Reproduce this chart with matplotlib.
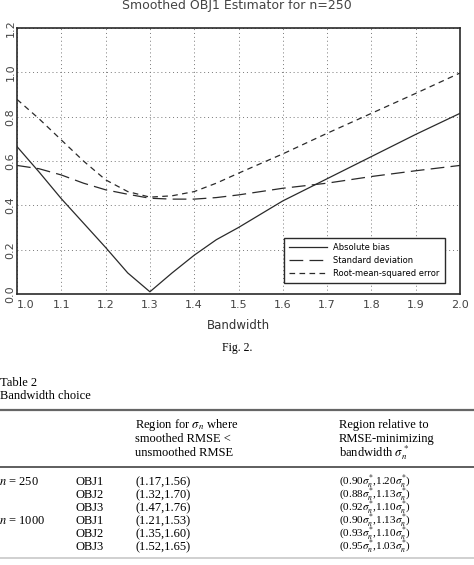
import matplotlib
matplotlib.use("Agg")
import matplotlib.pyplot as plt
from matplotlib.lines import Line2D

# values
bandwidth = [1.0, 1.05, 1.1, 1.15, 1.2, 1.25, 1.3, 1.35, 1.4, 1.45, 1.5, 1.6, 1.7, 1.8, 1.9, 2.0]
abs_bias = [0.665, 0.55, 0.43, 0.32, 0.21, 0.095, 0.01, 0.095, 0.175, 0.245, 0.30, 0.42, 0.52, 0.62, 0.72, 0.815]
std_dev = [0.58, 0.565, 0.537, 0.50, 0.47, 0.45, 0.432, 0.428, 0.428, 0.435, 0.447, 0.477, 0.50, 0.53, 0.556, 0.58]
rmse = [0.878, 0.79, 0.695, 0.60, 0.515, 0.462, 0.437, 0.443, 0.462, 0.50, 0.545, 0.632, 0.725, 0.815, 0.905, 0.997]

x_ticks = [1.0, 1.1, 1.2, 1.3, 1.4, 1.5, 1.6, 1.7, 1.8, 1.9, 2.0]
y_ticks = [0.0, 0.2, 0.4, 0.6, 0.8, 1.0, 1.2]
legend_labels = ["Absolute bias", "Standard deviation", "Root-mean-squared error"]

# table 2
sample_sizes = [r"$n$ = 250", "", "", r"$n$ = 1000", "", ""]
objectives = ["OBJ1", "OBJ2", "OBJ3", "OBJ1", "OBJ2", "OBJ3"]
regions = ["(1.17,1.56)", "(1.32,1.70)", "(1.47,1.76)", "(1.21,1.53)", "(1.35,1.60)", "(1.52,1.65)"]
rel_low = ["0.90", "0.88", "0.92", "0.90", "0.93", "0.95"]
rel_high = ["1.20", "1.13", "1.10", "1.13", "1.10", "1.03"]

ink = "#2a2a2a"
W, H = 474, 565
fig = plt.figure(figsize=(W / 100, H / 100), dpi=100)
plt.rcParams["mathtext.fontset"] = "stix"

ax = fig.add_axes([17 / W, 1 - 294 / H, 443 / W, 266 / H])
ax.plot(bandwidth, abs_bias, color=ink, lw=0.9, ls="-")
ax.plot(bandwidth, std_dev, color=ink, lw=0.9, dashes=(11, 5))
ax.plot(bandwidth, rmse, color=ink, lw=0.9, dashes=(4.5, 3.5))
ax.set_xlim(1.0, 2.0)
ax.set_ylim(0.0, 1.2)
ax.set_xticks(x_ticks)
ax.set_yticks(y_ticks)
ax.set_xticklabels(["%.1f" % v for v in x_ticks], fontsize=8, color="#444")
ax.set_yticklabels(["%.1f" % v for v in y_ticks], fontsize=8, color="#444",
                   rotation=90, va="center")
ax.get_xticklabels()[0].set_ha("left")
ax.tick_params(length=0, pad=4)
ax.tick_params(axis="y", pad=1)
ax.grid(True, ls=(0, (1, 3)), color="#777", lw=0.7)
for s in ax.spines.values():
    s.set_color(ink)
    s.set_linewidth(1.2)
ax.set_xlabel("Bandwidth", fontsize=8.5, color="#333", labelpad=7)
fig.text(237 / W, 1 - 5 / H, "Smoothed OBJ1 Estimator for n=250", fontsize=9,
         color="#444", ha="center", va="center")

handles = [Line2D([], [], color=ink, lw=0.9),
           Line2D([], [], color=ink, lw=0.9, dashes=(11, 5)),
           Line2D([], [], color=ink, lw=0.9, dashes=(4.5, 3.5))]
leg = ax.legend(handles, legend_labels, loc="lower right", bbox_to_anchor=(0.975, 0.025),
                fontsize=6, fancybox=False, framealpha=1, edgecolor=ink,
                handlelength=4.5, borderpad=0.6, labelspacing=0.5)
leg.get_frame().set_linewidth(1.0)

# caption and table below the chart
serif = ["Liberation Serif", "DejaVu Serif"]
fs = 9
fig.text(237 / W, 1 - 348 / H, "Fig. 2.", fontsize=8.5, family=serif, ha="center", va="center")
fig.text(0, 1 - 383 / H, "Table 2", fontsize=fs, family=serif, va="center")
fig.text(0, 1 - 396 / H, "Bandwidth choice", fontsize=fs, family=serif, va="center")

fig.add_artist(Line2D([0, 1], [1 - 410 / H] * 2, color="#666", lw=1.6))
fig.add_artist(Line2D([0, 1], [1 - 467 / H] * 2, color="#333", lw=1.1))
fig.add_artist(Line2D([0, 1], [1 - 558 / H] * 2, color="#c8c8c8", lw=1.2))

head3 = ["Region for $\\sigma_n$ where", "smoothed RMSE <", "unsmoothed RMSE"]
head4 = ["Region relative to", "RMSE-minimizing", "bandwidth $\\sigma_n^*$"]
for i, y in enumerate([425, 439, 453]):
    fig.text(135 / W, 1 - y / H, head3[i], fontsize=fs, family=serif, va="center")
    fig.text(339 / W, 1 - y / H, head4[i], fontsize=fs, family=serif, va="center")

row_y = [482, 495, 508, 521, 534, 547]
for i, y in enumerate(row_y):
    yy = 1 - y / H
    fig.text(-1 / W, yy, sample_sizes[i], fontsize=fs, family=serif, va="center")
    fig.text(76 / W, yy, objectives[i], fontsize=fs, family=serif, va="center")
    fig.text(135 / W, yy, regions[i], fontsize=fs, family=serif, va="center")
    rel = "(%s$\\sigma^{*}_{n}$,%s$\\sigma^{*}_{n}$)" % (rel_low[i], rel_high[i])
    fig.text(339 / W, yy, rel, fontsize=8, family=serif, va="center")

fig.savefig("out.png", dpi=100)
